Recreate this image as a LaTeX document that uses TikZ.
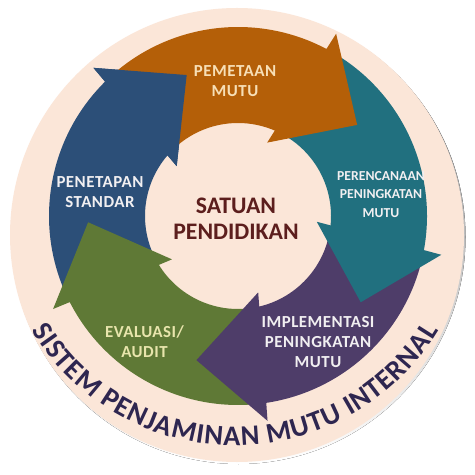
\documentclass[tikz,border=0pt]{standalone}
\usepackage{fontspec}
\setmainfont{Carlito}
\usetikzlibrary{decorations.text}
\definecolor{peach}{HTML}{FBE6D8}
\definecolor{shade}{HTML}{DCCBC0}
\definecolor{orangeA}{HTML}{B45F08}
\definecolor{tealA}{HTML}{21707F}
\definecolor{purpleA}{HTML}{4E3D69}
\definecolor{greenA}{HTML}{5F7936}
\definecolor{blueA}{HTML}{2C4F78}
\definecolor{maroonA}{HTML}{5C1E1D}
\definecolor{navyA}{HTML}{2E2650}
\definecolor{txtcream}{HTML}{F7DFB6}
\definecolor{txtwhite}{HTML}{F1EFF1}
\definecolor{txtyellow}{HTML}{E8E5AC}
\newcommand\titlefont{\fontsize{16.2}{19}\selectfont\bfseries}
% #1 tail angle, #2 base angle, #3 colour
\newcommand\cyclearrow[3]{%
  \pgfmathsetmacro\cyTa{#1}%
  \pgfmathsetmacro\cyOa{#2+2.9}%
  \pgfmathsetmacro\cyOb{#2+3.3}%
  \pgfmathsetmacro\cyTp{#2+27.6}%
  \pgfmathsetmacro\cyIb{#2-3.3}%
  \pgfmathsetmacro\cyIa{#2-1.7}%
  \fill[#3] (\cyTa:189) arc[start angle=\cyTa, end angle=\cyOa, radius=189]
     -- (\cyOb:207) -- (\cyTp:150) -- (\cyIb:79) -- (\cyIa:93)
     arc[start angle=\cyIa, end angle=\cyTa, radius=93] -- cycle;
}
\tikzset{
  lbl/.style={font=\bfseries\fontsize{9.6}{11.3}\selectfont\addfontfeature{LetterSpace=3}, align=center, inner sep=0pt},
  lblsmall/.style={font=\bfseries\fontsize{7.8}{10.5}\selectfont, align=center, inner sep=0pt},
  centrelbl/.style={font=\bfseries\fontsize{13.5}{15}\selectfont, align=center, inner sep=0pt, text=maroonA}
}
\begin{document}
\begin{tikzpicture}[x=0.02cm, y=-0.02cm]
\useasboundingbox (0,0) rectangle (474,475);
\fill[white] (0,0) rectangle (474,475);
% background disc
\fill[shade] (238.5,237) circle[radius=227];
\fill[peach] (237,235) circle[radius=227];
% cycle arrows
\begin{scope}[shift={(238,216)}]
  \cyclearrow{155}{222.4}{blueA}
  \cyclearrow{83.5}{150}{greenA}
  \cyclearrow{12.5}{78.5}{purpleA}
  \cyclearrow{-60}{7.5}{tealA}
  \cyclearrow{227.4}{295}{orangeA}
  % blue head on top of the orange tail
  \fill[blueA] (225.7:207) -- (250:150) -- (219.1:79) -- cycle;
\end{scope}
% labels
\node[lbl, text=txtcream] (pemetaan) at (235,81.5) {PEMETAAN\\MUTU};
\node[lbl, text=txtwhite] (penetapan) at (100,192.5) {PENETAPAN\\STANDAR};
\node[lblsmall, text=txtwhite] (perencanaan) at (381,194.2) {PERENCANAAN\\PENINGKATAN\\MUTU};
\node[lbl, text=txtwhite] (implementasi) at (318,341.7) {IMPLEMENTASI\\PENINGKATAN\\MUTU};
\node[lbl, text=txtyellow] (evaluasi) at (144.5,341.7) {EVALUASI/\\AUDIT};
\node[centrelbl] (satuan) at (236,219) {SATUAN\\PENDIDIKAN};
% curved title
\path[font=\titlefont, decorate, decoration={text along path,
   text={|\titlefont|SISTEM PENJAMINAN MUTU INTERNAL},
   text color=navyA, text align={fit to path}}]
   (235,208) ++(149:237.5) arc[start angle=149, end angle=31, radius=237.5];
\end{tikzpicture}
\end{document}
